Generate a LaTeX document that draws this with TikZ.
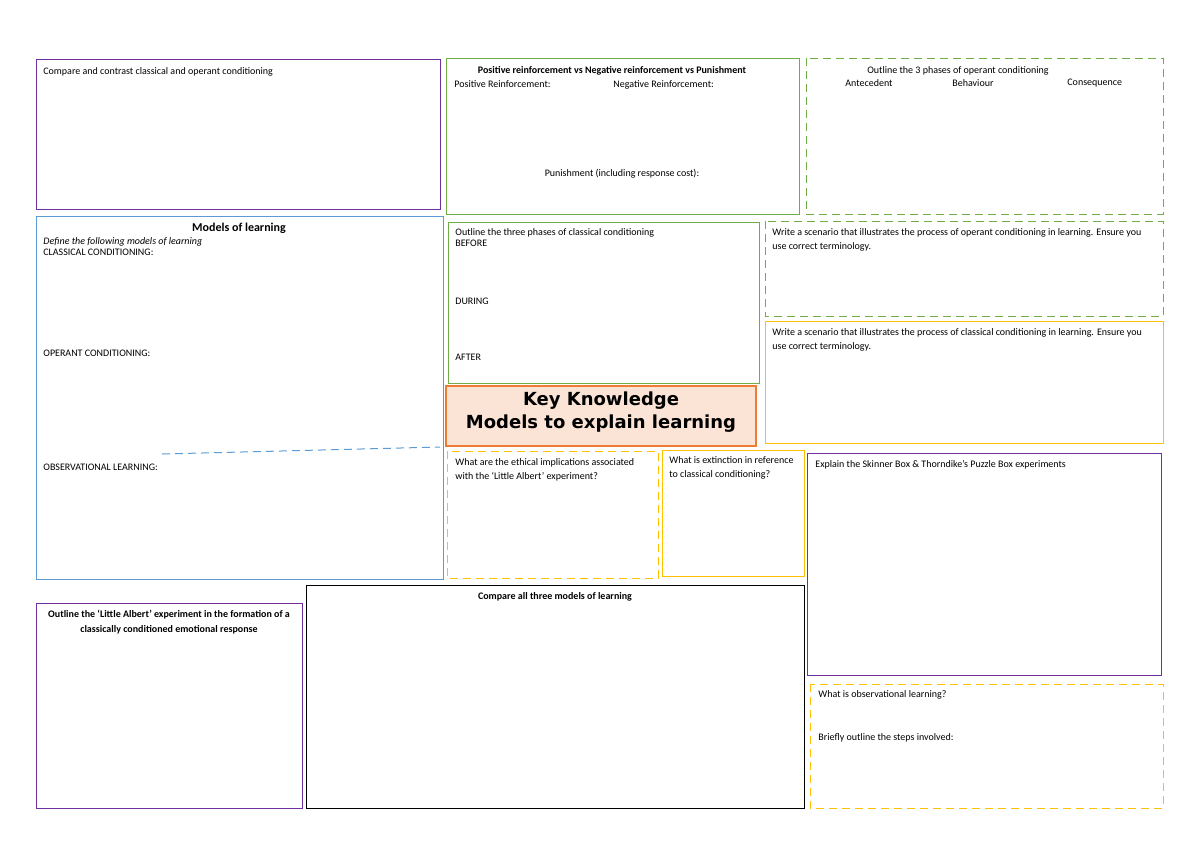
\documentclass[tikz,border=0pt]{standalone}
\usepackage{fontspec}
\setmainfont{Carlito}
\newfontfamily\titlefont{DejaVu Sans}
\definecolor{cpurple}{HTML}{7030A0}
\definecolor{cgreen}{HTML}{70AD47}
\definecolor{cblue}{HTML}{5B9BD5}
\definecolor{cyellow}{HTML}{FFC000}
\definecolor{corange}{HTML}{ED7D31}
\definecolor{cpeach}{HTML}{FBE4D5}
\begin{document}
\begin{tikzpicture}[x=0.5pt,y=-0.5pt,
  bx/.style={line width=0.5pt},
  dsh/.style={bx,dash pattern=on 4pt off 2.5pt},
  t/.style={anchor=north west,inner sep=0pt,font=\fontsize{5}{6}\selectfont,align=left},
  tc/.style={anchor=north,inner sep=0pt,font=\fontsize{5}{6}\selectfont,align=center}]
\useasboundingbox (0,0) rectangle (1200,848);
\draw[bx,cpurple] (36,59) rectangle (440,209);
\draw[bx,cgreen] (446,58) rectangle (799,214);
\draw[dsh,cgreen] (806,58) rectangle (1163,214);
\draw[bx,cblue] (36,216) rectangle (443,579);
\draw[bx,cgreen] (448,222) rectangle (759,383);
\draw[dsh,cgreen] (765,221) rectangle (1163,316);
\draw[bx,cyellow] (765,321) rectangle (1163,443);
\draw[line width=1.1pt,corange,fill=cpeach] (446,386) rectangle (756,446);
\draw[dsh,cyellow] (447,451) rectangle (658,578);
\draw[bx,cyellow] (662,450) rectangle (804,576);
\draw[bx,cpurple] (807,453) rectangle (1161,675);
\draw[bx,cpurple] (36,603) rectangle (302,808);
\draw[bx,black] (306,585) rectangle (804,808);
\draw[dsh,cyellow] (810,684) rectangle (1163,808);
\coordinate (d1) at (162,454); \coordinate (d2) at (440,447);
\draw[cblue,line width=0.5pt,dash pattern=on 4pt off 2.5pt] (d1) -- (d2);

\node[t] (a1) at (43,67) {Compare and contrast classical and operant conditioning};
\node[tc] (b1) at (612,66) {\textbf{Positive reinforcement vs Negative reinforcement vs Punishment}};
\node[t] (b2) at (454,80) {Positive Reinforcement:};
\node[t] (b3) at (613,80) {Negative Reinforcement:};
\node[tc] (b4) at (622,169) {Punishment (including response cost):};
\node[tc] (c1) at (958,66) {Outline the 3 phases of operant conditioning};
\node[t] (c2) at (845,79) {Antecedent};
\node[t] (c3) at (952,79) {Behaviour};
\node[t] (c4) at (1067,79) {Consequence};
\node[tc] (m1) at (239,223) {\fontsize{6}{7}\selectfont\textbf{Models of learning}};
\node[t] (m2) at (43,237) {\textit{Define the following models of learning}\\[-0.3pt]CLASSICAL CONDITIONING:};
\node[t] (m3) at (43,350) {OPERANT CONDITIONING:};
\node[t] (m4) at (43,464) {OBSERVATIONAL LEARNING:};
\node[t] (p1) at (455,228) {Outline the three phases of classical conditioning\\[-0.3pt]BEFORE};
\node[t] (p2) at (455,298) {DURING};
\node[t] (p3) at (455,354) {AFTER};
\node[t] (s1) at (772,228) {Write a scenario that illustrates the process of operant conditioning in learning. Ensure you\\[1.3pt]use correct terminology.};
\node[t] (s2) at (772,328) {Write a scenario that illustrates the process of classical conditioning in learning. Ensure you\\[1.3pt]use correct terminology.};
\node[align=center,inner sep=0pt,font=\titlefont\bfseries\fontsize{9}{11.5}\selectfont] (k) at (601,412) {Key Knowledge\\Models to explain learning};
\node[t] (e1) at (455,458) {What are the ethical implications associated\\[1.3pt]with the `Little Albert' experiment?};
\node[t] (x1) at (669,456) {What is extinction in reference\\[1.3pt]to classical conditioning?};
\node[t] (sk) at (815,460) {Explain the Skinner Box \& Thorndike's Puzzle Box experiments};
\node[tc] (la) at (169,610) {\textbf{Outline the `Little Albert' experiment in the formation of a}\\[1.3pt]\textbf{classically conditioned emotional response}};
\node[tc] (ca) at (555,592) {\textbf{Compare all three models of learning}};
\node[t] (o1) at (818,690) {What is observational learning?};
\node[t] (o2) at (818,733) {Briefly outline the steps involved:};
\end{tikzpicture}
\end{document}
